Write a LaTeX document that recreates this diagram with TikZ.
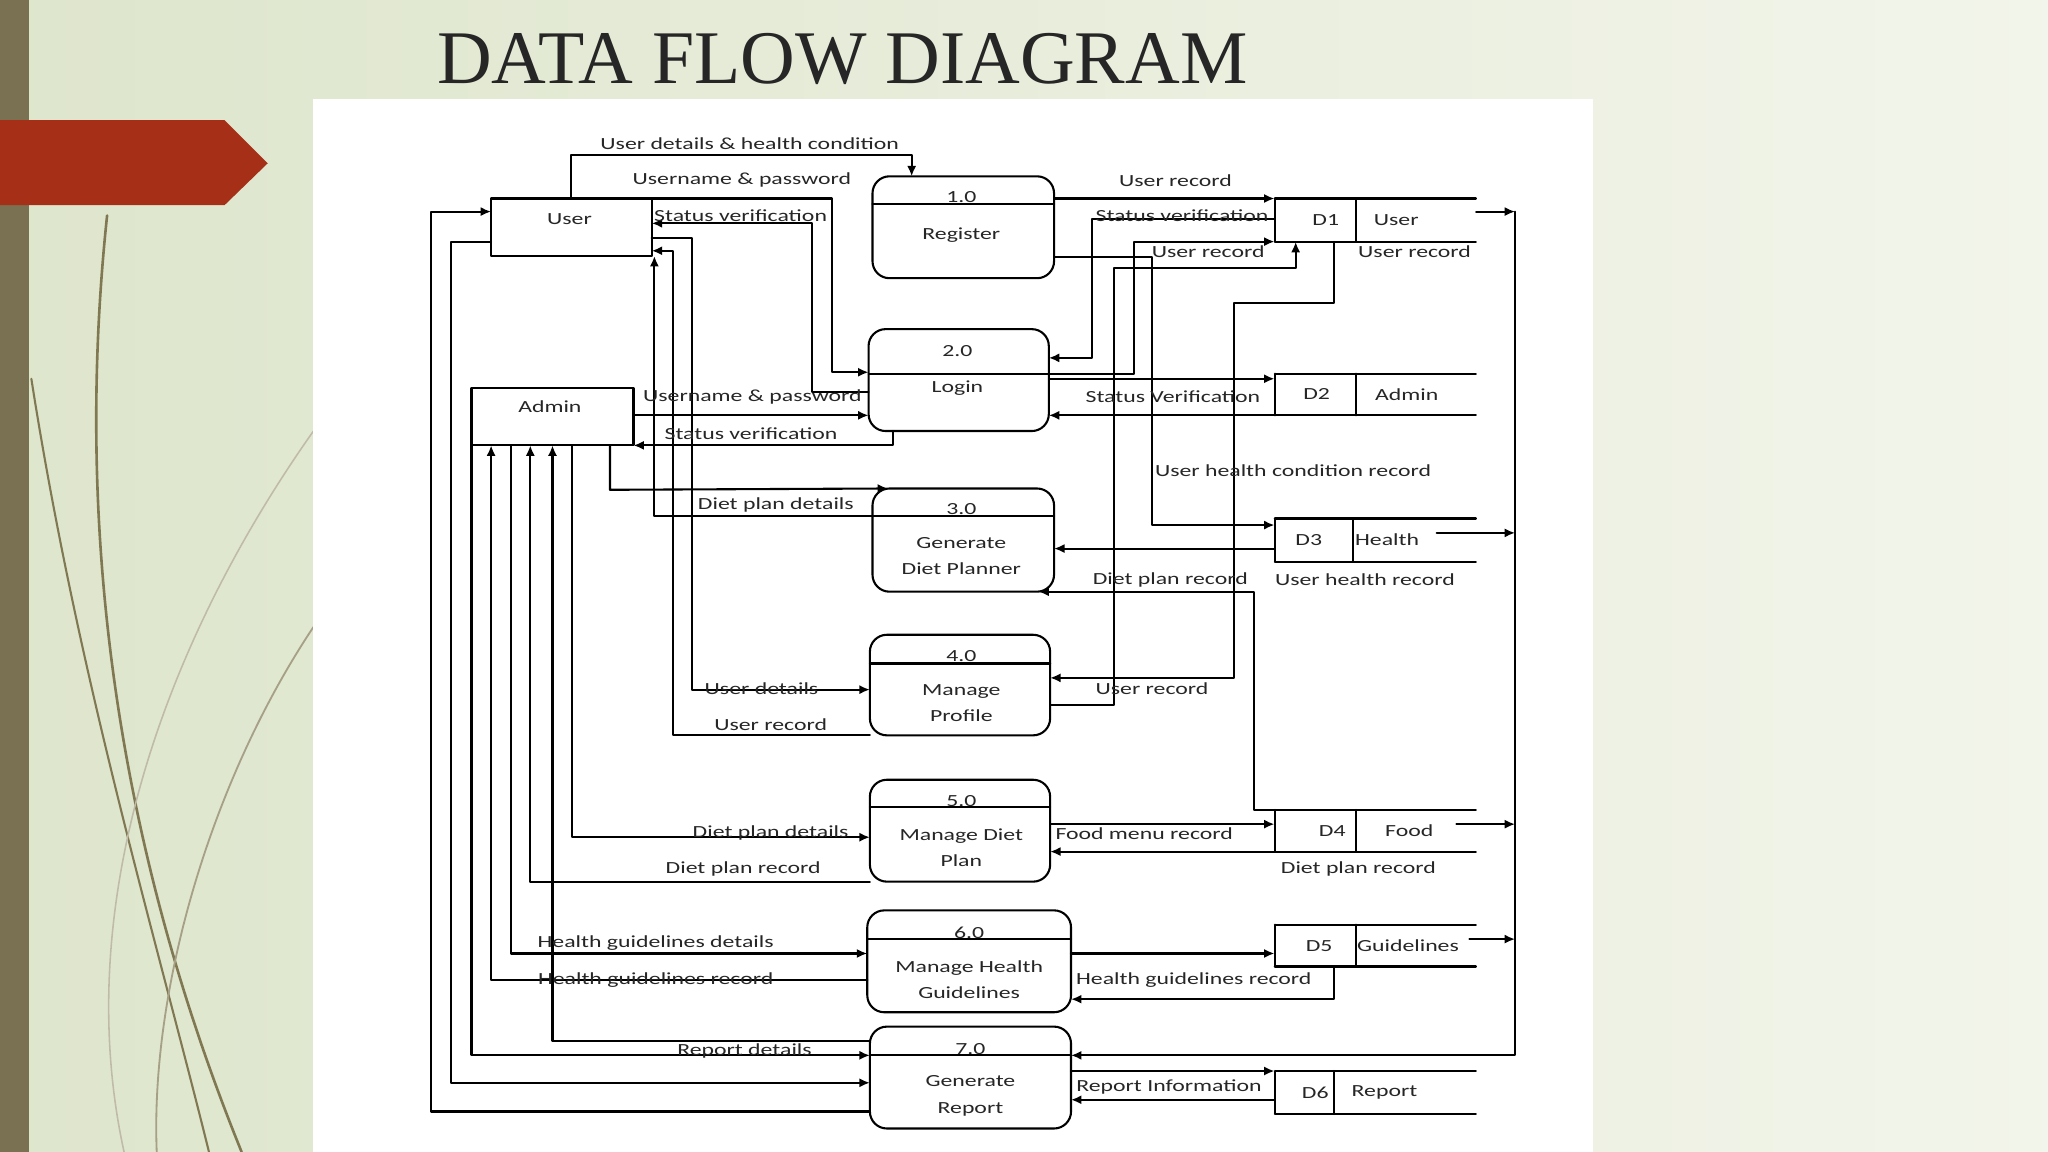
\documentclass[tikz,border=0pt]{standalone}
\usepackage{fontspec}
\usetikzlibrary{arrows.meta}
\newfontfamily\dfd{Carlito}[FakeStretch=1.4]
\newfontfamily\ttl{Liberation Serif}
\definecolor{bgleft}{rgb}{0.87,0.90,0.80}
\definecolor{bgright}{rgb}{0.95,0.96,0.92}
\definecolor{strip}{rgb}{0.48,0.44,0.32}
\definecolor{redarr}{rgb}{0.65,0.19,0.09}
\definecolor{curve}{rgb}{0.50,0.47,0.32}

\tikzset{
  flow/.style={line width=1.6pt,-{Latex[length=8pt,width=7pt]}},
  line/.style={line width=1.6pt},
  proc/.style={draw,line width=1.6pt,rounded corners=13pt,inner sep=0pt,outer sep=0pt},
  ent/.style={draw,line width=1.6pt,inner sep=0pt,outer sep=0pt},
  lbl/.style={font=\dfd\fontsize{13}{15}\selectfont,inner sep=0pt,text=black!85},
  ptx/.style={font=\dfd\fontsize{13}{20}\selectfont,align=center,inner sep=0pt,text=black!85}
}
% data store: name, top, bottom, divider x, id, title, id x, title x
\newcommand\dstore[8]{
  \node[inner sep=0pt,minimum width=154pt,minimum height=#3pt-#2pt] (#1) at (1053,{(#2+#3)/2}) {};
  \draw[line] (976,#2) -- (1130,#2) (976,#3) -- (1130,#3) (976,#2) -- (976,#3) (#4,#2) -- (#4,#3);
  \node[lbl] (#1id) at (#7,{(#2+#3)/2}) {#5};
  \node[lbl] (#1tx) at (#8,{(#2+#3)/2}) {#6};
}

\begin{document}
\begin{tikzpicture}[x=1pt,y=-1pt,line cap=round,line join=round]
\useasboundingbox (0,0) rectangle (1568,882);
% slide background
\shade[left color=bgleft,right color=bgright] (0,0) rectangle (1568,882);
\fill[strip] (0,0) rectangle (22,882);
\fill[redarr] (0,92) -- (172,92) -- (205,125) -- (172,157) -- (0,157) -- cycle;
\draw[curve,line width=2pt] (82,165) .. controls (55,420) and (95,660) .. (185,882);
\draw[curve,line width=1.6pt] (24,290) .. controls (60,520) and (120,720) .. (160,882);
\draw[curve!70,line width=1.4pt] (240,480) .. controls (160,600) and (115,760) .. (120,882);
\draw[curve!50,line width=1.2pt] (240,330) .. controls (120,500) and (55,700) .. (95,882);
\node[font=\ttl\fontsize{58}{62}\selectfont,text=black!85] (title) at (645,45) {DATA FLOW DIAGRAM};
\fill[white] (240,76) rectangle (1220,882);

% entities
\node[ent,minimum width=123pt,minimum height=44pt] (user) at (437.5,174) {};
\node[lbl] (usertx) at (436,168) {User};
\node[ent,minimum width=124pt,minimum height=44pt] (admin) at (423,319) {};
\node[lbl] (admintx) at (421,311) {Admin};

% processes
\node[proc,minimum width=139pt,minimum height=78pt] (p1) at (737.5,174) {};
\node[proc,minimum width=138pt,minimum height=78pt] (p2) at (734,291) {};
\node[proc,minimum width=139pt,minimum height=79pt] (p3) at (737.5,413.5) {};
\node[proc,minimum width=138pt,minimum height=77pt] (p4) at (735,524.5) {};
\node[proc,minimum width=138pt,minimum height=78pt] (p5) at (735,636) {};
\node[proc,minimum width=156pt,minimum height=78pt] (p6) at (742,736) {};
\node[proc,minimum width=154pt,minimum height=78pt] (p7) at (743,825) {};
\draw[line] (p1.west |- 0,156) -- (p1.east |- 0,156);
\draw[line] (p2.west |- 0,286) -- (p2.east |- 0,286);
\draw[line] (p3.west |- 0,395) -- (p3.east |- 0,395);
\draw[line] (p4.west |- 0,508) -- (p4.east |- 0,508);
\draw[line] (p5.west |- 0,618) -- (p5.east |- 0,618);
\draw[line] (p6.west |- 0,719) -- (p6.east |- 0,719);
\draw[line] (p7.west |- 0,808) -- (p7.east |- 0,808);
\node[ptx] (p1n) at (736,151) {1.0};
\node[ptx] (p1t) at (736,180) {Register};
\node[ptx] (p2n) at (733,269) {2.0};
\node[ptx] (p2t) at (733,297) {Login};
\node[ptx] (p3n) at (736,390) {3.0};
\node[ptx] (p3t) at (736,426) {Generate\\Diet Planner};
\node[ptx] (p4n) at (736,502) {4.0};
\node[ptx] (p4t) at (736,538) {Manage\\Profile};
\node[ptx] (p5n) at (736,613) {5.0};
\node[ptx] (p5t) at (736,649) {Manage Diet\\Plan};
\node[ptx] (p6n) at (742,714) {6.0};
\node[ptx] (p6t) at (742,750) {Manage Health\\Guidelines};
\node[ptx] (p7n) at (743,803) {7.0};
\node[ptx] (p7t) at (743,839) {Generate\\Report};

% data stores
\dstore{d1}{152}{185}{1038}{D1}{User}{1015}{1069}
\dstore{d2}{286}{318}{1038}{D2}{Admin}{1008}{1077}
\dstore{d3}{397}{430}{1036}{D3}{Health}{1002}{1062}
\dstore{d4}{620}{652}{1038}{D4}{Food}{1020}{1079}
\dstore{d5}{708}{740}{1038}{D5}{Guidelines}{1010}{1078}
\dstore{d6}{820}{853}{1021}{D6}{Report}{1007}{1060}

% user flows
\draw[flow] (user.north -| 437,0) -- (437,119) -- (698,119) -- (p1.north -| 698,0);
\draw[flow] (user.east |- 0,152) -- (637,152) -- (637,285) -- (p2.west |- 0,285);
\draw[flow] (p2.west |- 0,300) -- (622,300) -- (622,171) -- (user.east |- 0,171);
\draw[flow] (p3.west |- 0,395) -- (501,395) -- (user.south -| 501,0);
\draw[flow] (user.east |- 0,182) -- (530,182) -- (530,528) -- (p4.west |- 0,528);
\draw[flow] (p4.west |- 0,563) -- (515,563) -- (515,192) -- (user.east |- 0,192);
\draw[flow] (p7.west |- 0,851) -- (330,851) -- (330,162) -- (user.west |- 0,162);
\draw[flow] (user.west |- 0,185) -- (345,185) -- (345,829) -- (p7.west |- 0,829);

% admin flows
\draw[flow] (admin.east |- 0,318) -- (p2.west |- 0,318);
\draw[flow] (p2.south -| 684,0) -- (684,341) -- (admin.east |- 0,341);
\draw[flow] (admin.south -| 467,0) -- (467,375) -- (p3.north -| 680,0);
\draw[flow] (admin.south -| 438,0) -- (438,641) -- (p5.west |- 0,641);
\draw[flow] (p5.west |- 0,675) -- (406,675) -- (admin.south -| 406,0);
\draw[flow] (admin.south -| 391,0) -- (391,730) -- (p6.west |- 0,730);
\draw[flow] (p6.west |- 0,750) -- (376,750) -- (admin.south -| 376,0);
\draw[flow] (p7.west |- 0,797) -- (423,797) -- (admin.south -| 423,0);
\draw[flow] (admin.south west) -- (361,808) -- (p7.west |- 0,808);

% store flows
\draw[flow] (p1.east |- 0,152) -- (d1.west |- 0,152);
\draw[flow] (d1.west |- 0,168) -- (836,168) -- (836,274) -- (p2.east |- 0,274);
\draw[flow] (p2.east |- 0,286) -- (868,286) -- (868,185) -- (d1.west |- 0,185);
\draw[flow] (p1.east |- 0,197) -- (882,197) -- (882,402) -- (d3.west |- 0,402);
\draw[flow] (p4.east |- 0,540) -- (853,540) -- (853,205) -- (992,205) -- (d1.south -| 992,0);
\draw[flow] (d1.south -| 1021,0) -- (1021,232) -- (945,232) -- (945,519) -- (p4.east |- 0,519);
\draw[flow] (p2.east |- 0,290) -- (d2.west |- 0,290);
\draw[flow] (d2.west |- 0,318) -- (p2.east |- 0,318);
\draw[flow] (d3.west |- 0,420) -- (p3.east |- 0,420);
\draw[flow] (d4.west |- 0,620) -- (960,620) -- (960,453) -- (p3.south -| 795,0);
\draw[flow] (p5.east |- 0,631) -- (d4.west |- 0,631);
\draw[flow] (d4.west |- 0,652) -- (p5.east |- 0,652);
\draw[flow] (p6.east |- 0,730) -- (d5.west |- 0,730);
\draw[flow] (d5.south -| 1021,0) -- (1021,765) -- (p6.east |- 0,765);
\draw[flow] (p7.east |- 0,820) -- (d6.west |- 0,820);
\draw[flow] (d6.west |- 0,842) -- (p7.east |- 0,842);

% report bus
\coordinate (bus1) at (1160,162);
\coordinate (bus3) at (1160,408);
\coordinate (bus4) at (1160,631);
\coordinate (bus5) at (1160,719);
\draw[flow] (d1.east |- 0,162) -- (bus1);
\draw[flow] (1100,408) -- (bus3);
\draw[flow] (1115,631) -- (bus4);
\draw[flow] (1125,719) -- (bus5);
\draw[flow] (bus1) -- (1160,808) -- (p7.east |- 0,808);

% flow labels
\node[lbl] (l1) at (574,110) {User details \& health condition};
\node[lbl] (l2) at (568,138) {Username \& password};
\node[lbl] (l3) at (567,165) {Status verification};
\node[lbl] (l4) at (576,304) {Username \& password};
\node[lbl] (l5) at (575,332) {Status verification};
\node[lbl] (l6) at (594,387) {Diet plan details};
\node[lbl] (l7) at (583,527) {User details};
\node[lbl] (l8) at (590,555) {User record};
\node[lbl] (l9) at (590,638) {Diet plan details};
\node[lbl] (l10) at (569,665) {Diet plan record};
\node[lbl] (l11) at (502,722) {Health guidelines details};
\node[lbl] (l12) at (502,750) {Health guidelines record};
\node[lbl] (l13) at (570,805) {Report details};
\node[lbl] (r1) at (900,138) {User record};
\node[lbl] (r2) at (905,165) {Status verification};
\node[lbl] (r3) at (925,193) {User record};
\node[lbl] (r4) at (1083,193) {User record};
\node[lbl] (r5) at (898,304) {Status Verification};
\node[lbl] (r6) at (990,360) {User health condition record};
\node[lbl] (r7) at (896,444) {Diet plan record};
\node[lbl] (r8) at (1045,444) {User health record};
\node[lbl] (r9) at (882,527) {User record};
\node[lbl] (r10) at (876,638) {Food menu record};
\node[lbl] (r11) at (1040,665) {Diet plan record};
\node[lbl] (r12) at (914,750) {Health guidelines record};
\node[lbl] (r13) at (895,832) {Report Information};
\end{tikzpicture}
\end{document}
